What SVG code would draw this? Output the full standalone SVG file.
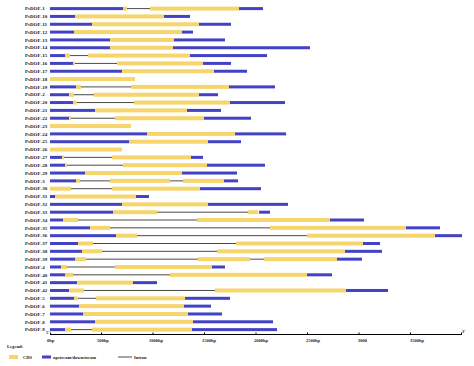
<svg xmlns="http://www.w3.org/2000/svg" width="474" height="366" viewBox="0 0 474 366">
<style>
text{font-family:"Liberation Serif","Times New Roman",serif;font-weight:bold;fill:#1a1a1a}
.lb{font-size:5px}
.tk{font-size:4.5px}
.c{fill:#F6D56C}
.u{fill:#4242C4}
.in{stroke:#4a4a4a;stroke-width:1}
.ax{stroke:#000;stroke-width:1;fill:none}
</style>
<rect width="474" height="366" fill="#fff"/>
<g id="genes">
<g id="PsDOF-1" transform="translate(0,8.6)"><text class="lb" x="25" y="1.7">PsDOF-1</text><line class="in" x1="127" x2="150"/><rect class="u" x="50" y="-1.5" width="73" height="3"/><rect class="c" x="123" y="-2" width="4" height="4"/><rect class="c" x="150" y="-2" width="89" height="4"/><rect class="u" x="239" y="-1.5" width="24" height="3"/></g>
<g id="PsDOF-10" transform="translate(0,16.43)"><text class="lb" x="25" y="1.7">PsDOF-10</text><rect class="u" x="50" y="-1.5" width="25" height="3"/><rect class="c" x="75" y="-2" width="89" height="4"/><rect class="u" x="164" y="-1.5" width="26" height="3"/></g>
<g id="PsDOF-11" transform="translate(0,24.26)"><text class="lb" x="25" y="1.7">PsDOF-11</text><rect class="u" x="50" y="-1.5" width="42" height="3"/><rect class="c" x="92" y="-2" width="107" height="4"/><rect class="u" x="199" y="-1.5" width="32" height="3"/></g>
<g id="PsDOF-12" transform="translate(0,32.09)"><text class="lb" x="25" y="1.7">PsDOF-12</text><rect class="u" x="50" y="-1.5" width="24" height="3"/><rect class="c" x="74" y="-2" width="108" height="4"/><rect class="u" x="182" y="-1.5" width="11" height="3"/></g>
<g id="PsDOF-13" transform="translate(0,39.92)"><text class="lb" x="25" y="1.7">PsDOF-13</text><rect class="u" x="50" y="-1.5" width="60" height="3"/><rect class="c" x="110" y="-2" width="64" height="4"/><rect class="u" x="174" y="-1.5" width="51" height="3"/></g>
<g id="PsDOF-14" transform="translate(0,47.75)"><text class="lb" x="25" y="1.7">PsDOF-14</text><rect class="u" x="50" y="-1.5" width="60" height="3"/><rect class="c" x="110" y="-2" width="63" height="4"/><rect class="u" x="173" y="-1.5" width="137" height="3"/></g>
<g id="PsDOF-15" transform="translate(0,55.58)"><text class="lb" x="25" y="1.7">PsDOF-15</text><line class="in" x1="70" x2="88"/><rect class="u" x="50" y="-1.5" width="15" height="3"/><rect class="c" x="65" y="-2" width="5" height="4"/><rect class="c" x="88" y="-2" width="102" height="4"/><rect class="u" x="190" y="-1.5" width="77" height="3"/></g>
<g id="PsDOF-16" transform="translate(0,63.41)"><text class="lb" x="25" y="1.7">PsDOF-16</text><line class="in" x1="75" x2="117"/><rect class="u" x="50" y="-1.5" width="23" height="3"/><rect class="c" x="73" y="-2" width="2" height="4"/><rect class="c" x="117" y="-2" width="86" height="4"/><rect class="u" x="203" y="-1.5" width="28" height="3"/></g>
<g id="PsDOF-17" transform="translate(0,71.24)"><text class="lb" x="25" y="1.7">PsDOF-17</text><rect class="u" x="50" y="-1.5" width="72" height="3"/><rect class="c" x="122" y="-2" width="92" height="4"/><rect class="u" x="214" y="-1.5" width="33" height="3"/></g>
<g id="PsDOF-18" transform="translate(0,79.07)"><text class="lb" x="25" y="1.7">PsDOF-18</text><rect class="c" x="50" y="-2" width="85" height="4"/></g>
<g id="PsDOF-19" transform="translate(0,86.9)"><text class="lb" x="25" y="1.7">PsDOF-19</text><line class="in" x1="81" x2="131"/><rect class="u" x="50" y="-1.5" width="26" height="3"/><rect class="c" x="76" y="-2" width="5" height="4"/><rect class="c" x="131" y="-2" width="98" height="4"/><rect class="u" x="229" y="-1.5" width="46" height="3"/></g>
<g id="PsDOF-2" transform="translate(0,94.73)"><text class="lb" x="25" y="1.7">PsDOF-2</text><line class="in" x1="74" x2="94"/><rect class="u" x="50" y="-1.5" width="19" height="3"/><rect class="c" x="69" y="-2" width="5" height="4"/><rect class="c" x="94" y="-2" width="105" height="4"/><rect class="u" x="199" y="-1.5" width="19" height="3"/></g>
<g id="PsDOF-20" transform="translate(0,102.56)"><text class="lb" x="25" y="1.7">PsDOF-20</text><line class="in" x1="77" x2="134"/><rect class="u" x="50" y="-1.5" width="23" height="3"/><rect class="c" x="73" y="-2" width="4" height="4"/><rect class="c" x="134" y="-2" width="96" height="4"/><rect class="u" x="230" y="-1.5" width="55" height="3"/></g>
<g id="PsDOF-21" transform="translate(0,110.39)"><text class="lb" x="25" y="1.7">PsDOF-21</text><rect class="u" x="50" y="-1.5" width="45" height="3"/><rect class="c" x="95" y="-2" width="92" height="4"/><rect class="u" x="187" y="-1.5" width="34" height="3"/></g>
<g id="PsDOF-22" transform="translate(0,118.22)"><text class="lb" x="25" y="1.7">PsDOF-22</text><line class="in" x1="71" x2="115"/><rect class="u" x="50" y="-1.5" width="19" height="3"/><rect class="c" x="69" y="-2" width="2" height="4"/><rect class="c" x="115" y="-2" width="89" height="4"/><rect class="u" x="204" y="-1.5" width="47" height="3"/></g>
<g id="PsDOF-23" transform="translate(0,126.05)"><text class="lb" x="25" y="1.7">PsDOF-23</text><rect class="c" x="50" y="-2" width="81" height="4"/></g>
<g id="PsDOF-24" transform="translate(0,133.88)"><text class="lb" x="25" y="1.7">PsDOF-24</text><rect class="u" x="50" y="-1.5" width="97" height="3"/><rect class="c" x="147" y="-2" width="88" height="4"/><rect class="u" x="235" y="-1.5" width="51" height="3"/></g>
<g id="PsDOF-25" transform="translate(0,141.71)"><text class="lb" x="25" y="1.7">PsDOF-25</text><rect class="u" x="50" y="-1.5" width="79" height="3"/><rect class="c" x="129" y="-2" width="79" height="4"/><rect class="u" x="208" y="-1.5" width="33" height="3"/></g>
<g id="PsDOF-26" transform="translate(0,149.54)"><text class="lb" x="25" y="1.7">PsDOF-26</text><rect class="c" x="50" y="-2" width="72" height="4"/></g>
<g id="PsDOF-27" transform="translate(0,157.37)"><text class="lb" x="25" y="1.7">PsDOF-27</text><line class="in" x1="64" x2="112"/><rect class="u" x="50" y="-1.5" width="12" height="3"/><rect class="c" x="62" y="-2" width="2" height="4"/><rect class="c" x="112" y="-2" width="79" height="4"/><rect class="u" x="191" y="-1.5" width="12" height="3"/></g>
<g id="PsDOF-28" transform="translate(0,165.2)"><text class="lb" x="25" y="1.7">PsDOF-28</text><line class="in" x1="67" x2="123"/><rect class="u" x="50" y="-1.5" width="15" height="3"/><rect class="c" x="65" y="-2" width="2" height="4"/><rect class="c" x="123" y="-2" width="84" height="4"/><rect class="u" x="207" y="-1.5" width="58" height="3"/></g>
<g id="PsDOF-29" transform="translate(0,173.03)"><text class="lb" x="25" y="1.7">PsDOF-29</text><rect class="u" x="50" y="-1.5" width="35" height="3"/><rect class="c" x="85" y="-2" width="97" height="4"/><rect class="u" x="182" y="-1.5" width="55" height="3"/></g>
<g id="PsDOF-3" transform="translate(0,180.86)"><text class="lb" x="25" y="1.7">PsDOF-3</text><line class="in" x1="80" x2="110"/><line class="in" x1="170" x2="183"/><rect class="u" x="50" y="-1.5" width="26" height="3"/><rect class="c" x="76" y="-2" width="4" height="4"/><rect class="c" x="110" y="-2" width="60" height="4"/><rect class="c" x="183" y="-2" width="41" height="4"/><rect class="u" x="224" y="-1.5" width="14" height="3"/></g>
<g id="PsDOF-30" transform="translate(0,188.69)"><text class="lb" x="25" y="1.7">PsDOF-30</text><line class="in" x1="71" x2="112"/><rect class="c" x="50" y="-2" width="21" height="4"/><rect class="c" x="112" y="-2" width="88" height="4"/><rect class="u" x="200" y="-1.5" width="61" height="3"/></g>
<g id="PsDOF-31" transform="translate(0,196.52)"><text class="lb" x="25" y="1.7">PsDOF-31</text><rect class="u" x="50" y="-1.5" width="5" height="3"/><rect class="c" x="55" y="-2" width="81" height="4"/><rect class="u" x="136" y="-1.5" width="13" height="3"/></g>
<g id="PsDOF-32" transform="translate(0,204.35)"><text class="lb" x="25" y="1.7">PsDOF-32</text><rect class="u" x="50" y="-1.5" width="72" height="3"/><rect class="c" x="122" y="-2" width="86" height="4"/><rect class="u" x="208" y="-1.5" width="80" height="3"/></g>
<g id="PsDOF-33" transform="translate(0,212.18)"><text class="lb" x="25" y="1.7">PsDOF-33</text><line class="in" x1="157" x2="248"/><rect class="u" x="50" y="-1.5" width="63" height="3"/><rect class="c" x="113" y="-2" width="44" height="4"/><rect class="c" x="248" y="-2" width="10" height="4"/><rect class="u" x="259" y="-1.5" width="11" height="3"/></g>
<g id="PsDOF-34" transform="translate(0,220.01)"><text class="lb" x="25" y="1.7">PsDOF-34</text><line class="in" x1="78" x2="197"/><rect class="u" x="50" y="-1.5" width="13" height="3"/><rect class="c" x="63" y="-2" width="15" height="4"/><rect class="c" x="197" y="-2" width="133" height="4"/><rect class="u" x="330" y="-1.5" width="34" height="3"/></g>
<g id="PsDOF-35" transform="translate(0,227.84)"><text class="lb" x="25" y="1.7">PsDOF-35</text><line class="in" x1="110" x2="270"/><rect class="u" x="50" y="-1.5" width="40" height="3"/><rect class="c" x="90" y="-2" width="20" height="4"/><rect class="c" x="270" y="-2" width="136" height="4"/><rect class="u" x="406" y="-1.5" width="34" height="3"/></g>
<g id="PsDOF-36" transform="translate(0,235.67)"><text class="lb" x="25" y="1.7">PsDOF-36</text><line class="in" x1="137" x2="307"/><rect class="u" x="50" y="-1.5" width="66" height="3"/><rect class="c" x="116" y="-2" width="21" height="4"/><rect class="c" x="307" y="-2" width="128" height="4"/><rect class="u" x="435" y="-1.5" width="27" height="3"/></g>
<g id="PsDOF-37" transform="translate(0,243.5)"><text class="lb" x="25" y="1.7">PsDOF-37</text><line class="in" x1="93" x2="236"/><rect class="u" x="50" y="-1.5" width="28" height="3"/><rect class="c" x="78" y="-2" width="15" height="4"/><rect class="c" x="236" y="-2" width="127" height="4"/><rect class="u" x="363" y="-1.5" width="17" height="3"/></g>
<g id="PsDOF-38" transform="translate(0,251.33)"><text class="lb" x="25" y="1.7">PsDOF-38</text><line class="in" x1="102" x2="217"/><rect class="u" x="50" y="-1.5" width="32" height="3"/><rect class="c" x="82" y="-2" width="20" height="4"/><rect class="c" x="217" y="-2" width="128" height="4"/><rect class="u" x="345" y="-1.5" width="37" height="3"/></g>
<g id="PsDOF-39" transform="translate(0,259.16)"><text class="lb" x="25" y="1.7">PsDOF-39</text><line class="in" x1="86" x2="198"/><line class="in" x1="250" x2="264"/><rect class="u" x="50" y="-1.5" width="25" height="3"/><rect class="c" x="75" y="-2" width="11" height="4"/><rect class="c" x="198" y="-2" width="52" height="4"/><rect class="c" x="264" y="-2" width="73" height="4"/><rect class="u" x="337" y="-1.5" width="25" height="3"/></g>
<g id="PsDOF-4" transform="translate(0,266.99)"><text class="lb" x="25" y="1.7">PsDOF-4</text><line class="in" x1="67" x2="115"/><rect class="u" x="50" y="-1.5" width="11" height="3"/><rect class="c" x="61" y="-2" width="6" height="4"/><rect class="c" x="115" y="-2" width="97" height="4"/><rect class="u" x="212" y="-1.5" width="13" height="3"/></g>
<g id="PsDOF-40" transform="translate(0,274.82)"><text class="lb" x="25" y="1.7">PsDOF-40</text><line class="in" x1="73" x2="170"/><rect class="u" x="50" y="-1.5" width="15" height="3"/><rect class="c" x="65" y="-2" width="8" height="4"/><rect class="c" x="170" y="-2" width="137" height="4"/><rect class="u" x="307" y="-1.5" width="25" height="3"/></g>
<g id="PsDOF-41" transform="translate(0,282.65)"><text class="lb" x="25" y="1.7">PsDOF-41</text><rect class="u" x="50" y="-1.5" width="27" height="3"/><rect class="c" x="77" y="-2" width="56" height="4"/><rect class="u" x="133" y="-1.5" width="24" height="3"/></g>
<g id="PsDOF-42" transform="translate(0,290.48)"><text class="lb" x="25" y="1.7">PsDOF-42</text><line class="in" x1="84" x2="215"/><rect class="u" x="50" y="-1.5" width="19" height="3"/><rect class="c" x="69" y="-2" width="15" height="4"/><rect class="c" x="215" y="-2" width="131" height="4"/><rect class="u" x="346" y="-1.5" width="42" height="3"/></g>
<g id="PsDOF-5" transform="translate(0,298.31)"><text class="lb" x="25" y="1.7">PsDOF-5</text><line class="in" x1="78" x2="96"/><rect class="u" x="50" y="-1.5" width="24" height="3"/><rect class="c" x="74" y="-2" width="4" height="4"/><rect class="c" x="96" y="-2" width="89" height="4"/><rect class="u" x="185" y="-1.5" width="45" height="3"/></g>
<g id="PsDOF-6" transform="translate(0,306.14)"><text class="lb" x="25" y="1.7">PsDOF-6</text><rect class="u" x="50" y="-1.5" width="29" height="3"/><rect class="c" x="79" y="-2" width="105" height="4"/><rect class="u" x="184" y="-1.5" width="27" height="3"/></g>
<g id="PsDOF-7" transform="translate(0,313.97)"><text class="lb" x="25" y="1.7">PsDOF-7</text><rect class="u" x="50" y="-1.5" width="33" height="3"/><rect class="c" x="83" y="-2" width="105" height="4"/><rect class="u" x="188" y="-1.5" width="34" height="3"/></g>
<g id="PsDOF-8" transform="translate(0,321.8)"><text class="lb" x="25" y="1.7">PsDOF-8</text><rect class="u" x="50" y="-1.5" width="45" height="3"/><rect class="c" x="95" y="-2" width="98" height="4"/><rect class="u" x="193" y="-1.5" width="80" height="3"/></g>
<g id="PsDOF-9" transform="translate(0,329.63)"><text class="lb" x="25" y="1.7">PsDOF-9</text><line class="in" x1="71" x2="92"/><rect class="u" x="50" y="-1.5" width="15" height="3"/><rect class="c" x="65" y="-2" width="6" height="4"/><rect class="c" x="92" y="-2" width="100" height="4"/><rect class="u" x="192" y="-1.5" width="85" height="3"/></g>
</g>
<g id="axis">
<line class="ax" x1="50" y1="334.5" x2="462" y2="334.5"/>
<path class="ax" d="M50.5 332.5V334.5M101.5 332.5V334.5M153 332.5V334.5M204.5 332.5V334.5M256 332.5V334.5M307.5 332.5V334.5M359 332.5V334.5M410.5 332.5V334.5M461.5 332.5V334.5"/>
<text class="tk" x="46" y="334">5'</text>
<text class="tk" x="462" y="333">3'</text>
<text class="tk" x="47" y="342">0bp</text>
<text class="tk" x="97" y="342">500bp</text>
<text class="tk" x="149" y="342">1000bp</text>
<text class="tk" x="202" y="342">1500bp</text>
<text class="tk" x="254" y="342">2000bp</text>
<text class="tk" x="306" y="342">2500bp</text>
<text class="tk" x="358" y="342">3000</text>
<text class="tk" x="410" y="342">3500bp</text>
</g>
<g id="legend">
<text class="tk" x="7" y="347.5" style="font-size:4.6px">Legend:</text>
<rect class="c" x="9" y="355" width="9" height="4"/>
<text class="tk" x="23" y="358.5">CDS</text>
<rect class="u" x="42" y="355.5" width="9" height="3"/>
<text class="tk" x="53" y="358.5">upstream/downstream</text>
<line class="in" x1="118" y1="357" x2="132" y2="357"/>
<text class="tk" x="134" y="358.5">Intron</text>
</g>
</svg>
